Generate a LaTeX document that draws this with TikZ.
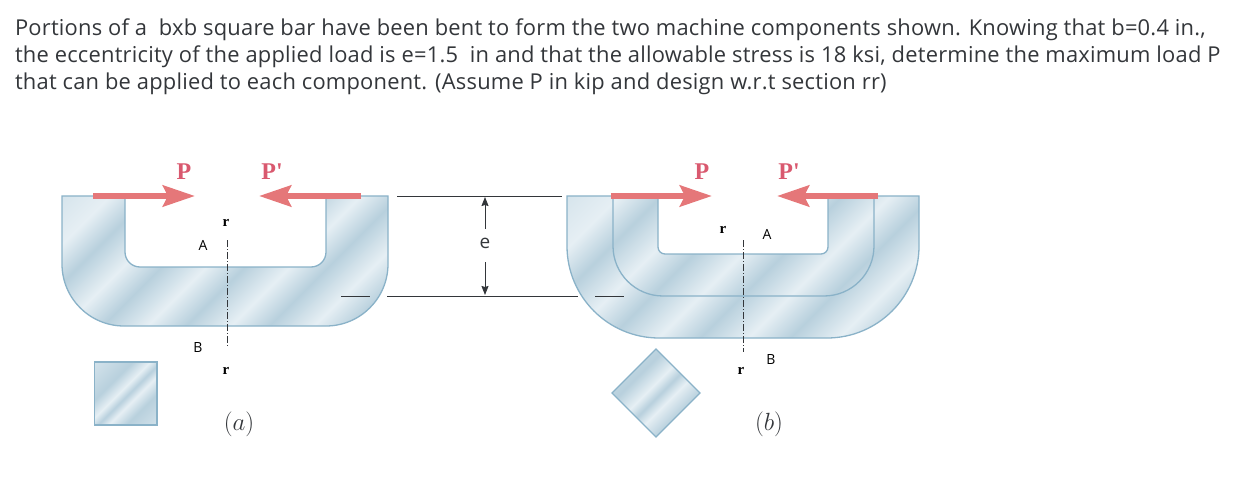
\documentclass[tikz,border=0pt]{standalone}
\usepackage{fontspec}
\setmainfont[LetterSpace=1.0]{Open Sans}
\newfontfamily\serifb{Liberation Serif}
\usetikzlibrary{arrows.meta}
\definecolor{edgeblue}{HTML}{8AB2C8}
\definecolor{loadred}{HTML}{E57779}
\definecolor{labelred}{HTML}{D9596F}
\definecolor{inkgrey}{HTML}{33363A}
\definecolor{mA}{HTML}{E6EFF4}
\definecolor{mB}{HTML}{B8D0DD}
\pgfdeclareverticalshading{metal}{100bp}{
 color(0bp)=(mA); color(20bp)=(mB); color(26bp)=(mA); color(33bp)=(mB); color(39bp)=(mA);
 color(46bp)=(mB); color(52bp)=(mA); color(59bp)=(mB); color(65bp)=(mA); color(72bp)=(mB); color(78bp)=(mA); color(100bp)=(mB)}
\pgfdeclareverticalshading{metalsmall}{100bp}{
 color(0bp)=(mA); color(32bp)=(mB); color(42bp)=(mA); color(48bp)=(mB); color(54bp)=(mA); color(64bp)=(mB); color(100bp)=(mA)}
\tikzset{
 x=1pt,y=-1pt,
 every node/.style={inner sep=0pt,outer sep=0pt},
 bar/.style={draw=edgeblue,line width=1.3pt,shading=metal,shading angle=45},
 barsmall/.style={draw=edgeblue,line width=1.3pt,shading=metalsmall,shading angle=45},
 innerline/.style={draw=edgeblue,line width=1.3pt},
 load/.style={draw=loadred,fill=loadred,line width=6pt,-{Stealth[length=32pt,width=21pt,inset=5pt]}},
 dimline/.style={draw=inkgrey,line width=0.9pt},
 dimarrow/.style={draw=inkgrey,line width=0.9pt,-{Stealth[length=9pt,width=7pt,inset=1pt]}},
 axis/.style={draw=inkgrey,line width=0.6pt,dash pattern=on 7pt off 2pt on 1pt off 2pt},
 para/.style={anchor=base west,font=\fontsize{21.9}{24}\selectfont,text=inkgrey},
 force/.style={font=\serifb\bfseries\fontsize{24}{24}\selectfont,text=labelred},
 sect/.style={font=\serifb\bfseries\fontsize{15}{15}\selectfont,text=black},
 pt/.style={font=\fontsize{14}{15}\selectfont,text=black},
 dimtext/.style={font=\fontsize{19}{19}\selectfont,text=inkgrey},
 part/.style={font=\fontsize{27}{27}\selectfont,text=inkgrey}
}
\begin{document}
\begin{tikzpicture}
\useasboundingbox (0,0) rectangle (1258,481);
\node[para] (l1) at (15,36) {Portions of a\ \ bxb square bar have been bent to form the two machine components shown. Knowing that b=0.4 in.,};
\node[para] (l2) at (15,63) {the eccentricity of the applied load is e=1.5\ \ in and that the allowable stress is 18 ksi, determine the maximum load P};
\node[para] (l3) at (15,90) {that can be applied to each component. (Assume P in kip and design w.r.t section rr)};
% component a
\path[bar] (62,196) -- (125,196) -- (125,252) arc[start angle=180,end angle=90,radius=15] -- (311,267)
 arc[start angle=90,end angle=0,radius=15] -- (326,196) -- (388,196) -- (388,264)
 arc[start angle=0,end angle=90,radius=62] -- (124,326) arc[start angle=90,end angle=180,radius=62] -- cycle;
\path[barsmall] (94.5,362) rectangle (157,425);
% component b
\path[bar] (567,196) -- (658,196) -- (658,247) arc[start angle=180,end angle=90,radius=7] -- (821,254)
 arc[start angle=90,end angle=0,radius=7] -- (828,196) -- (919,196) -- (919,246)
 arc[start angle=0,end angle=90,radius=92] -- (659,338) arc[start angle=90,end angle=180,radius=92] -- cycle;
\draw[innerline] (613,196) -- (613,246) arc[start angle=180,end angle=90,radius=50] -- (824,296)
 arc[start angle=90,end angle=0,radius=50] -- (874,196);
\path[barsmall] (656,349) -- (700,393) -- (656,437) -- (612,393) -- cycle;
% loads
\coordinate (pas) at (93,196); \coordinate (pae) at (195,196);
\coordinate (qas) at (361,196); \coordinate (qae) at (259,196);
\coordinate (pbs) at (611,196); \coordinate (pbe) at (712,196);
\coordinate (qbs) at (878,196); \coordinate (qbe) at (777,196);
\draw[load] (pas) -- (pae);
\draw[load] (qas) -- (qae);
\draw[load] (pbs) -- (pbe);
\draw[load] (qbs) -- (qbe);
\node[force] (Pa) at (184,172) {P};
\node[force] (Qa) at (272,172) {P'};
\node[force] (Pb) at (702,172) {P};
\node[force] (Qb) at (789,172) {P'};
% dimension lines
\coordinate (t1) at (397,196); \coordinate (t2) at (562,196);
\coordinate (b1) at (341,296); \coordinate (b2) at (370,296);
\coordinate (b3) at (387,296); \coordinate (b4) at (578,296);
\coordinate (b5) at (595,296); \coordinate (b6) at (624,296);
\draw[dimline] (t1) -- (t2);
\draw[dimline] (b1) -- (b2);
\draw[dimline] (b3) -- (b4);
\draw[dimline] (b5) -- (b6);
\node[dimtext] (e) at (485,243) {e};
\coordinate (eu) at (485,197); \coordinate (ed) at (485,295);
\draw[dimarrow] (485,229) -- (eu);
\draw[dimarrow] (485,262) -- (ed);
% sections
\coordinate (ra1) at (227,240); \coordinate (ra2) at (227,347);
\coordinate (rb1) at (743,240); \coordinate (rb2) at (743,352);
\draw[axis] (ra1) -- (ra2);
\draw[axis] (rb1) -- (rb2);
\node[sect] (ra) at (226,223) {r};
\node[sect] (rc) at (226,371) {r};
\node[sect] (rb) at (723,230) {r};
\node[sect] (rd) at (741,371) {r};
\node[pt] (Aa) at (203,245) {A};
\node[pt] (Ba) at (198,348) {B};
\node[pt] (Ab) at (767,234) {A};
\node[pt] (Bb) at (771,360) {B};
\node[part] (ca) at (239,424) {$(a)$};
\node[part] (cb) at (769,424) {$(b)$};
\end{tikzpicture}
\end{document}
